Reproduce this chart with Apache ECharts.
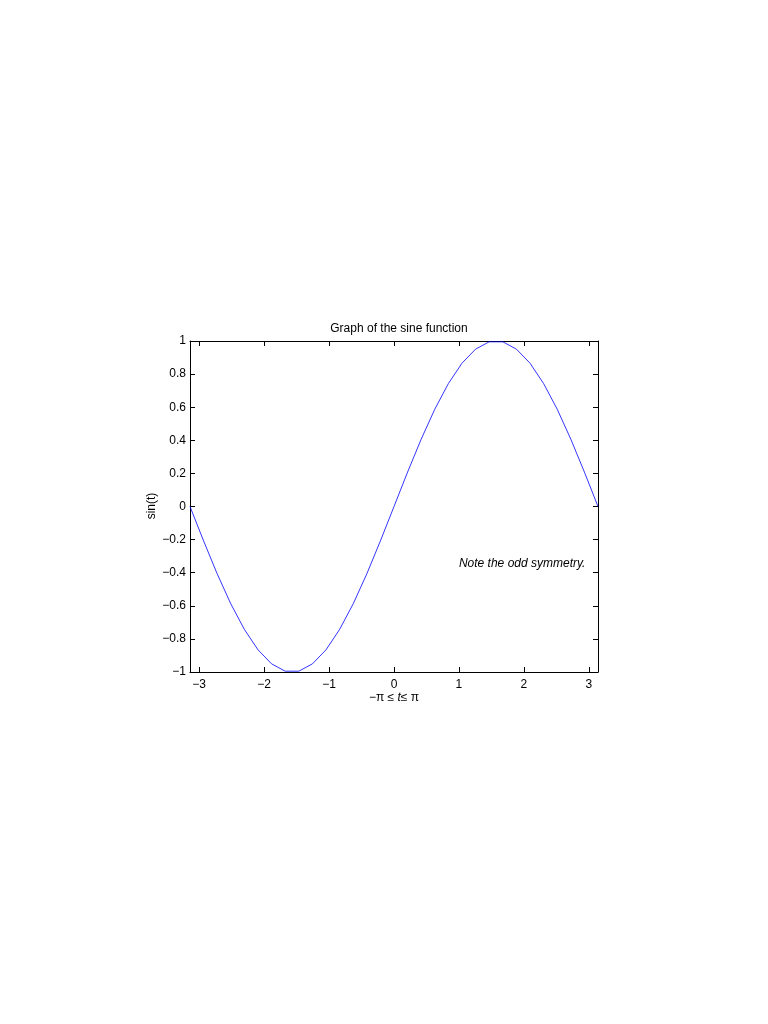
<!DOCTYPE html>
<html>
<head>
<meta charset="utf-8">
<script src="https://cdn.jsdelivr.net/npm/echarts@6/dist/echarts.min.js"></script>
<style>html,body{margin:0;padding:0;background:#fff}#c{width:768px;height:1024px}</style>
</head>
<body>
<div id="c"></div>
<script>
var tValues = [-3.1416,-2.9322,-2.7227,-2.5133,-2.3038,-2.0944,-1.8850,-1.6755,-1.4661,-1.2566,-1.0472,-0.8378,-0.6283,-0.4189,-0.2094,0,0.2094,0.4189,0.6283,0.8378,1.0472,1.2566,1.4661,1.6755,1.8850,2.0944,2.3038,2.5133,2.7227,2.9322,3.1416];
var sinValues = [0,-0.208,-0.407,-0.588,-0.743,-0.866,-0.951,-0.995,-0.995,-0.951,-0.866,-0.743,-0.588,-0.407,-0.208,0,0.208,0.407,0.588,0.743,0.866,0.951,0.995,0.995,0.951,0.866,0.743,0.588,0.407,0.208,0];
var xTicks = [-3,-2,-1,0,1,2,3];
var yTicks = [-1,-0.8,-0.6,-0.4,-0.2,0,0.2,0.4,0.6,0.8,1];
var titleText = 'Graph of the sine function';
var yLabel = 'sin(t)';
var noteText = 'Note the odd symmetry.';
var notePos = [1, -0.35];
var xMin = -3.1416, xMax = 3.1416;

var FONT = '"Liberation Sans", Arial, sans-serif';
function fmt(v){ return String(v).replace('-', '\u2212'); }

var chart = echarts.init(document.getElementById('c'), null, {renderer:'canvas'});
var lineStyle = {color:'#000', width:1};
function xAxisDef(pos, showLabel){
  return {
    type:'value', position:pos, min:xMin, max:xMax,
    axisLine:{show:true, onZero:false, lineStyle:lineStyle},
    axisTick:{show:true, inside:true, length:5, lineStyle:lineStyle, customValues:xTicks},
    axisLabel:{show:showLabel, customValues:xTicks, formatter:fmt, color:'#000', fontFamily:FONT, fontSize:12, margin:7},
    splitLine:{show:false}
  };
}
function yAxisDef(pos, showLabel){
  return {
    type:'value', position:pos, min:-1, max:1, interval:0.2,
    axisLine:{show:true, onZero:false, lineStyle:lineStyle},
    axisTick:{show:true, inside:true, length:5, lineStyle:lineStyle, customValues:yTicks},
    axisLabel:{show:showLabel, customValues:yTicks, formatter:function(v){return fmt(+v.toFixed(1));}, color:'#000', fontFamily:FONT, fontSize:12, margin:4},
    splitLine:{show:false}
  };
}
var data = tValues.map(function(t,i){return [t, sinValues[i]];});
chart.setOption({
  animation:false,
  backgroundColor:'#fff',
  title:{text:titleText, left:394, top:318, textAlign:'center', textStyle:{fontFamily:FONT, fontSize:12, fontWeight:'normal', color:'#000'}},
  grid:{left:190, top:341, width:408, height:331, containLabel:false},
  xAxis:[xAxisDef('bottom', true), xAxisDef('top', false)],
  yAxis:[yAxisDef('left', true), yAxisDef('right', false)],
  series:[{type:'line', data:data, showSymbol:false, symbol:'none', lineStyle:{color:'#0000ff', width:0.8}, xAxisIndex:0, yAxisIndex:0}]
});
var p = chart.convertToPixel({gridIndex:0}, notePos);
chart.setOption({
  graphic:[
    {type:'text', left:p[0], top:p[1]-7, style:{text:noteText, fontFamily:FONT, fontSize:12, fontStyle:'italic', fill:'#000'}},
    {type:'text', x:152, y:506, rotation:Math.PI/2, style:{text:yLabel, fontFamily:FONT, fontSize:12, fill:'#000', align:'center', verticalAlign:'middle'}},
    {type:'text', x:394, y:698, style:{
      text:'{n|\u2212\u03c0 \u2264 }{i|t}{n|\u2264 \u03c0}',
      align:'center', verticalAlign:'middle',
      rich:{n:{fontFamily:FONT, fontSize:12, fill:'#000', color:'#000'}, i:{fontFamily:FONT, fontSize:12, fontStyle:'italic', color:'#000'}}
    }}
  ]
});
</script>
</body>
</html>
